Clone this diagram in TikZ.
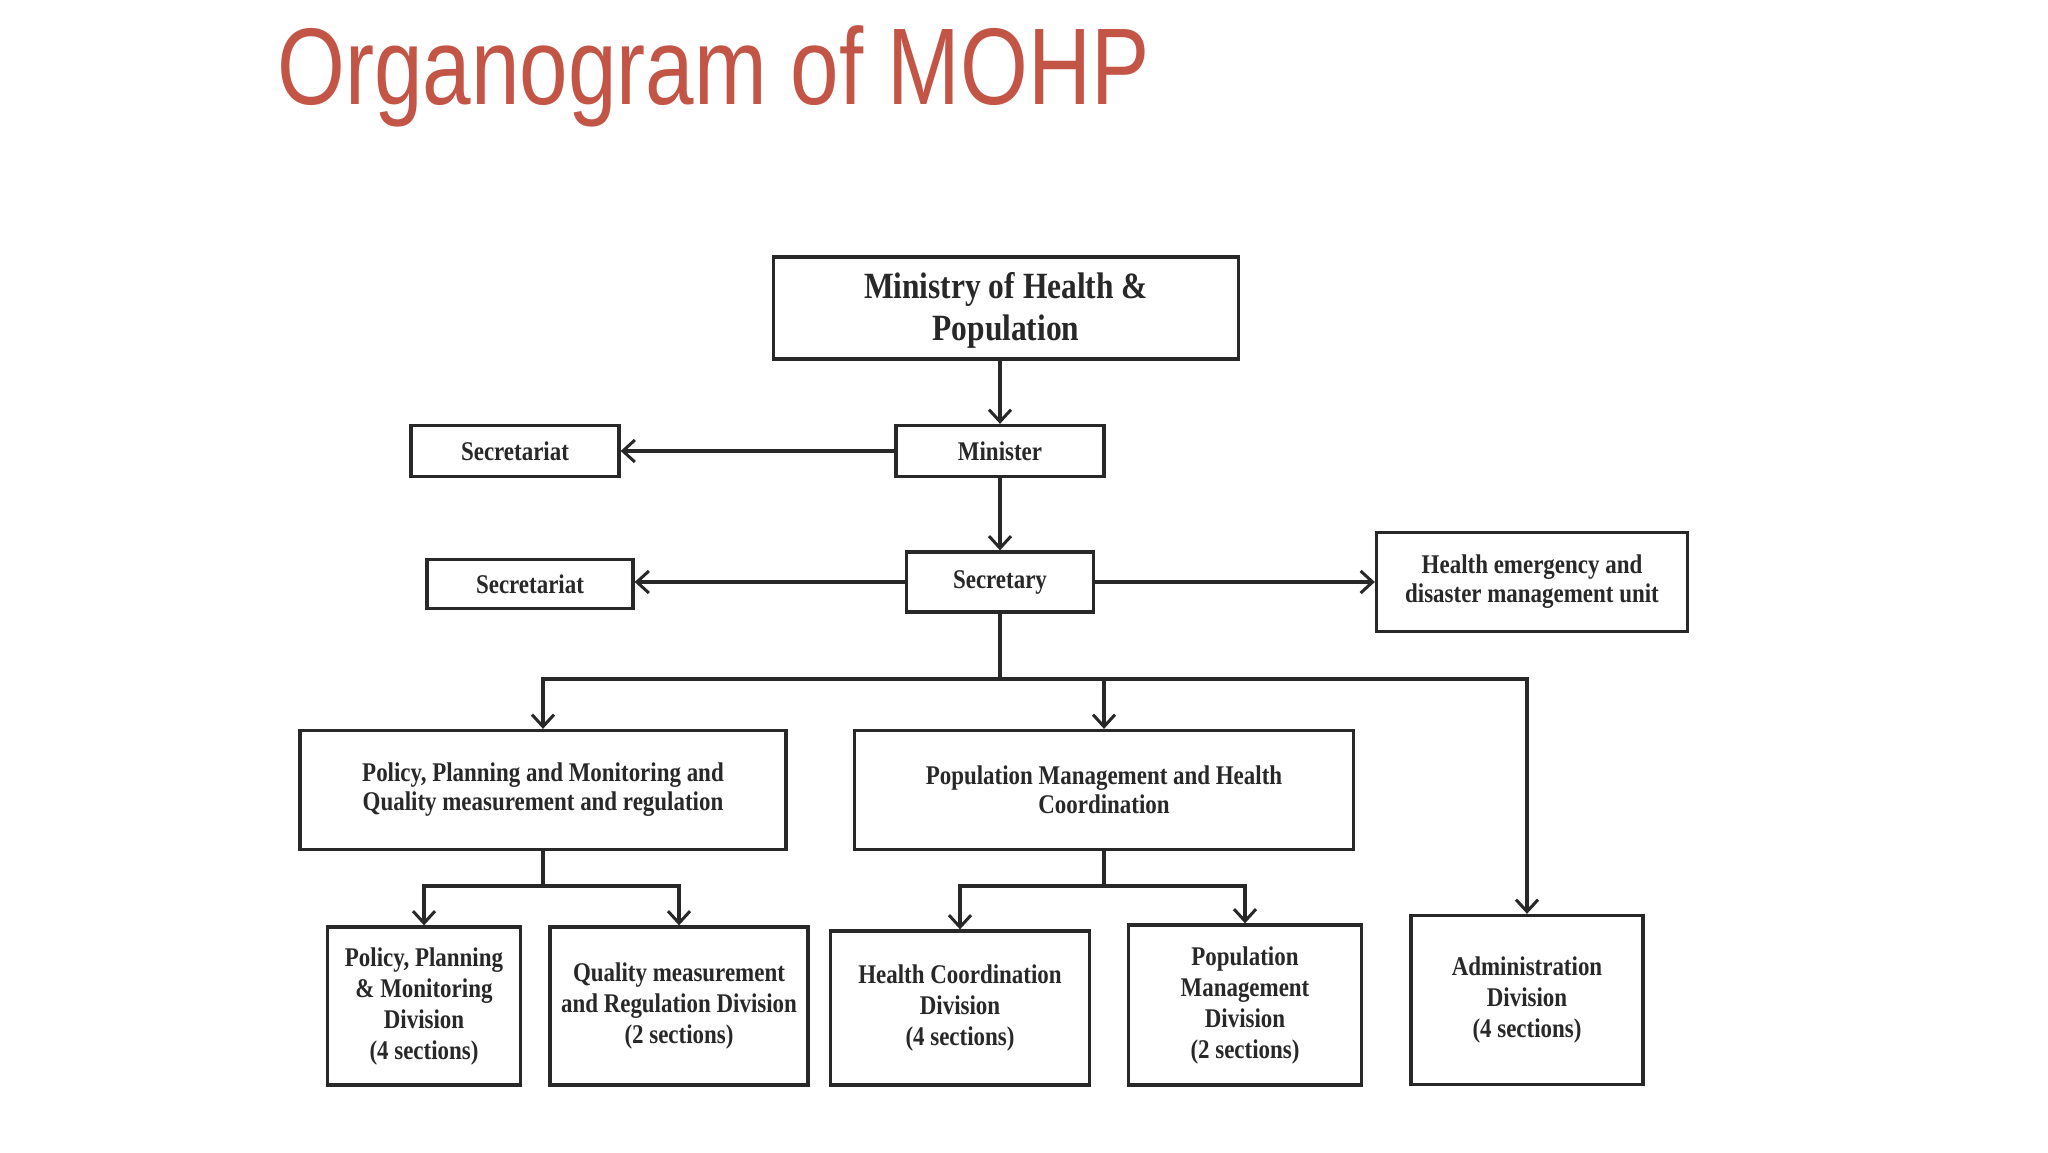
\documentclass[tikz,border=0pt]{standalone}
\usepackage{fontspec}
\usetikzlibrary{arrows.meta}
\setmainfont{Liberation Serif}
\newfontfamily\boxfont[FakeStretch=0.85]{Liberation Serif}
\newfontfamily\titlefont[FakeStretch=0.8]{Liberation Sans}
\definecolor{titlered}{RGB}{195,85,70}
\definecolor{ink}{RGB}{40,40,40}
\tikzset{
  box/.style={draw=ink, line width=3.3pt, rectangle, inner sep=0pt, align=center,
    text=ink, font=\boxfont\bfseries\fontsize{27}{29}\selectfont},
  subbox/.style={box, font=\boxfont\bfseries\fontsize{27}{31}\selectfont},
  conn/.style={draw=ink, line width=3.3pt},
  arr/.style={conn, -{Straight Barb[length=12pt,width=22pt,line width=3pt]}}
}
\begin{document}
\begin{tikzpicture}[x=1pt,y=-1pt]
\useasboundingbox[fill=white] (0,0) rectangle (2048,1152);
\node[anchor=base west, inner sep=0pt, text=titlered, font=\titlefont\fontsize{109}{120}\selectfont] (title) at (277,104) {Organogram of MOHP};

\node[box, minimum width=465pt, minimum height=102pt, font=\boxfont\bfseries\fontsize{37}{42}\selectfont] (mohp) at (1006,308) {\rule{0pt}{30pt}Ministry of Health \&\\Population};
\node[box, minimum width=208pt, minimum height=51pt] (minister) at (1000,451) {Minister};
\node[box, minimum width=208pt, minimum height=51pt] (sect1) at (515,451) {Secretariat};
\node[box, minimum width=187pt, minimum height=60pt] (secy) at (1000,582) {Secretary};
\node[box, minimum width=206pt, minimum height=49pt] (sect2) at (530,584) {Secretariat};
\node[box, minimum width=311pt, minimum height=99pt] (heu) at (1532,582) {Health emergency and\\disaster management unit};

\node[box, minimum width=486pt, minimum height=119pt] (ppm) at (543,790) {Policy, Planning and Monitoring and\\Quality measurement and regulation};
\node[box, minimum width=499pt, minimum height=119pt] (pmhc) at (1104,790) {Population Management and Health\\Coordination};

\node[subbox, minimum width=193pt, minimum height=158pt] (ppmd) at (424,1006) {Policy, Planning\\\& Monitoring\\Division\\(4 sections)};
\node[subbox, minimum width=258pt, minimum height=158pt] (qmrd) at (679,1006) {Quality measurement\\and Regulation Division\\(2 sections)};
\node[subbox, minimum width=259pt, minimum height=154pt] (hcd) at (960,1008) {Health Coordination\\Division\\(4 sections)};
\node[subbox, minimum width=233pt, minimum height=160pt] (pmd) at (1245,1005) {Population\\Management\\Division\\(2 sections)};
\node[subbox, minimum width=232pt, minimum height=169pt] (adm) at (1527,1000) {Administration\\Division\\(4 sections)};

\coordinate (bus) at (1000,679);
\coordinate (pbus) at (543,886);
\coordinate (qbus) at (1104,886);

\draw[arr] (minister.north |- mohp.south) -- (minister.north);
\draw[arr] (minister.west) -- (sect1.east);
\draw[arr] (minister.south) -- (secy.north);
\draw[arr] (secy.west) -- (secy.west -| sect2.east);
\draw[arr] (secy.east) -- (secy.east -| heu.west);

\draw[conn] (secy.south) -- (bus);
\draw[arr] (bus) -| (ppm.north);
\draw[arr] (bus) -| (pmhc.north);
\draw[arr] (bus) -| (adm.north);

\draw[conn] (ppm.south) -- (pbus);
\draw[arr] (pbus) -| (ppmd.north);
\draw[arr] (pbus) -| (qmrd.north);

\draw[conn] (pmhc.south) -- (qbus);
\draw[arr] (qbus) -| (hcd.north);
\draw[arr] (qbus) -| (pmd.north);
\end{tikzpicture}
\end{document}
